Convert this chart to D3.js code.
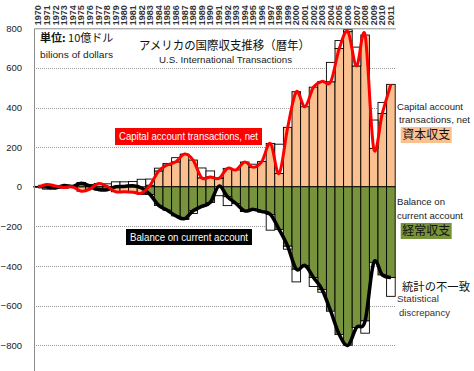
<!DOCTYPE html>
<html>
<head>
  <meta charset="UTF-8">
  <title>US International Transactions</title>
  <script src="https://cdn.jsdelivr.net/npm/d3@7"></script>
  <style>
    body { margin: 0; background: #fff; }
    svg { display: block; }
  </style>
</head>
<body>
  <div id="chart"></div>

  <script>
    // years on the top axis
    const years = ['1970', '1971', '1972', '1973', '1974', '1975', '1976', '1977', '1978', '1979',
                   '1980', '1981', '1982', '1983', '1984', '1985', '1986', '1987', '1988', '1989',
                   '1990', '1991', '1992', '1993', '1994', '1995', '1996', '1997', '1998', '1999',
                   '2000', '2001', '2002', '2003', '2004', '2005', '2006', '2007', '2008', '2009',
                   '2010', '2011'];

    // billions of dollars
    const capitalAccount = [-2, 12, 4, -3, -1, -22, -12, 17, 2, -25,
                            -25, -27, -32, 8, 80, 110, 126, 165, 135, 45,
                            50, 42, 93, 85, 125, 98, 128, 219, 67, 300,
                            480, 404, 503, 532, 530, 698, 783, 610, 766, 194,
                            370, 517];

    const currentAccount = [2, -1, -6, 7, 2, 18, 4, -14, -15, 0,
                            2, 5, -6, -39, -94, -118, -147, -161, -121, -99,
                            -79, 3, -50, -85, -122, -114, -125, -140, -215, -300,
                            -416, -397, -458, -519, -628, -746, -800, -710, -677, -383,
                            -445, -458];

    const statDiscrepancy = [0, -11, 2, -4, -1, 4, 8, -3, 13, 25,
                             23, 22, 38, 31, 14, 8, 21, -4, -14, 50,
                             30, -45, -45, 0, -3, 16, -3, -79, 148, -15,
                             -64, -7, -45, -13, 98, 40, 10, 95, -62, 143,
                             56, -95];

    const yTicks = [800, 600, 400, 200, 0, -200, -400, -600, -800];

    const width = 474, height = 371;
    const jpFont = '"Noto Sans CJK JP", sans-serif';
    const enFont = '"Liberation Sans", Arial, sans-serif';

    const svg = d3.select('#chart').append('svg')
      .attr('width', width)
      .attr('height', height);

    const x = d3.scaleBand().domain(years).range([34, 395.2]).padding(0);
    const y = d3.scaleLinear().domain([-1000, 800]).range([384.9, 28.3]);

    // table for the stacked columns
    const table = years.map((yr, i) => ({
      year: yr,
      capital: capitalAccount[i],
      current: currentAccount[i],
      discrepancy: statDiscrepancy[i]
    }));

    const series = d3.stack()
      .keys(['capital', 'current', 'discrepancy'])
      .offset(d3.stackOffsetDiverging)(table);

    const fills = { capital: '#FAC090', current: '#77933C', discrepancy: '#FFFFFF' };

    // dotted gridlines
    svg.append('g').selectAll('line')
      .data(yTicks.filter(v => v !== 800))
      .enter().append('line')
        .attr('x1', 34).attr('x2', 395.2)
        .attr('y1', v => Math.round(y(v)) + 0.5)
        .attr('y2', v => Math.round(y(v)) + 0.5)
        .attr('stroke', '#9a9a9a')
        .attr('stroke-dasharray', '1,1');

    // columns
    svg.append('g').selectAll('g')
      .data(series)
      .enter().append('g')
        .attr('fill', s => fills[s.key])
      .selectAll('rect')
      .data(s => s)
      .enter().append('rect')
        .attr('x', d => x(d.data.year))
        .attr('width', x.bandwidth())
        .attr('y', d => y(Math.max(d[0], d[1])))
        .attr('height', d => Math.abs(y(d[0]) - y(d[1])))
        .attr('stroke', '#000')
        .attr('stroke-width', 0.9);

    // smoothed lines
    const line = d3.line()
      .x((d, i) => x(years[i]) + x.bandwidth() / 2)
      .y(d => y(d))
      .curve(d3.curveCardinal);

    svg.append('path')
      .datum(currentAccount)
      .attr('d', line)
      .attr('fill', 'none')
      .attr('stroke', '#000')
      .attr('stroke-width', 3.5)
      .attr('stroke-linejoin', 'round');

    svg.append('path')
      .datum(capitalAccount)
      .attr('d', line)
      .attr('fill', 'none')
      .attr('stroke', '#FF0000')
      .attr('stroke-width', 3)
      .attr('stroke-linejoin', 'round');

    // left axis
    const yAxis = svg.append('g')
      .attr('transform', 'translate(34,0)')
      .call(d3.axisLeft(y).tickValues(yTicks).tickSize(0).tickPadding(12));
    yAxis.select('.domain').attr('stroke', '#8c8c8c');
    yAxis.selectAll('text')
      .attr('font-family', enFont)
      .attr('font-size', 9.5)
      .attr('fill', '#222');

    // top axis with rotated years
    const xAxis = svg.append('g')
      .attr('transform', `translate(0,${y(800)})`)
      .call(d3.axisTop(x).tickSize(0).tickSizeOuter(0));
    xAxis.select('.domain').attr('stroke', '#8c8c8c');
    xAxis.selectAll('text')
      .attr('font-family', enFont)
      .attr('font-size', 9)
      .attr('font-weight', 'bold')
      .attr('fill', '#333')
      .attr('text-anchor', 'start')
      .attr('transform', 'rotate(-90)')
      .attr('x', 3)
      .attr('y', 0)
      .attr('dy', '0.35em');

    // titles
    function label(txt, px, py, size, opts = {})
    {
      const t = svg.append('text')
        .attr('x', px).attr('y', py)
        .attr('font-family', opts.font || enFont)
        .attr('font-size', size)
        .attr('fill', opts.fill || '#222')
        .text(txt);
      if (opts.len) t.attr('textLength', opts.len).attr('lengthAdjust', 'spacingAndGlyphs');
      if (opts.weight) t.attr('font-weight', opts.weight);
      return t;
    }

    const unit = svg.append('text')
      .attr('x', 40).attr('y', 42)
      .attr('font-family', jpFont)
      .attr('font-size', 11)
      .attr('fill', '#111');
    unit.append('tspan').attr('font-weight', 'bold').text('単位:');
    unit.append('tspan').text(' 10億ドル');
    label('bilions of dollars', 40, 58, 9.5, { len: 73 });

    label('アメリカの国際収支推移（暦年）', 139, 50, 12, { font: jpFont, len: 171, fill: '#111' });
    label('U.S. International Transactions', 159, 63, 9.5, { len: 133 });

    // boxed labels inside the plot
    function boxLabel(txt, bx, by, bw, bh, bg, fg, size, font, len)
    {
      svg.append('rect')
        .attr('x', bx).attr('y', by)
        .attr('width', bw).attr('height', bh)
        .attr('fill', bg);
      const t = svg.append('text')
        .attr('x', bx + bw / 2).attr('y', by + bh / 2)
        .attr('dy', '0.35em')
        .attr('text-anchor', 'middle')
        .attr('font-family', font)
        .attr('font-size', size)
        .attr('fill', fg)
        .text(txt);
      if (len) t.attr('textLength', len).attr('lengthAdjust', 'spacingAndGlyphs');
    }

    boxLabel('Capital account transactions, net', 115, 128, 147, 17, '#FF0000', '#fff', 10.5, enFont, 139);
    boxLabel('Balance on current account', 126, 229, 126, 16, '#000', '#fff', 10.5, enFont, 118);

    // legend text on the right
    label('Capital account', 397, 110, 9.5, { len: 66 });
    label('transactions, net', 399, 123, 9.5, { len: 71 });
    boxLabel('資本収支', 400.7, 127, 51, 16, '#FAC090', '#111', 12, jpFont);

    label('Balance on', 397, 205, 9.5, { len: 48 });
    label('current account', 397, 219, 9.5, { len: 66 });
    boxLabel('経常収支', 400.7, 223, 51, 16, '#77933C', '#111', 12, jpFont);

    label('統計の不一致', 402, 291, 11.5, { font: jpFont, len: 68, fill: '#111' });
    label('Statistical', 397, 302, 9.5, { len: 42, fill: '#333' });
    label('discrepancy', 399, 316, 9.5, { len: 51, fill: '#333' });
  </script>
</body>
</html>
